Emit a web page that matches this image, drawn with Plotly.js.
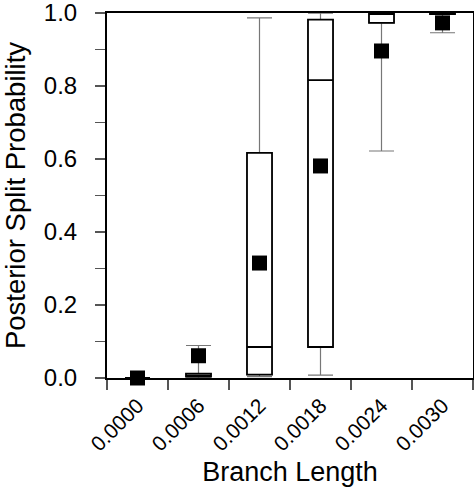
<!DOCTYPE html>
<html>
<head>
<meta charset="utf-8">
<script src="https://cdn.plot.ly/plotly-3.0.1.min.js"></script>
<style>html,body{margin:0;padding:0;background:#fff;}#chart{width:474px;height:487px;}</style>
</head>
<body>
<div id="chart"></div>
<script>
// Branch length categories
const categories = ['0.0000', '0.0006', '0.0012', '0.0018', '0.0024', '0.0030'];
// Box statistics of posterior split probability
const lowerWhisker = [0.000, 0.000, 0.004, 0.008, 0.622, 0.946];
const q1Values     = [0.000, 0.004, 0.009, 0.085, 0.973, 0.997];
const medianValues = [0.000, 0.004, 0.085, 0.816, 1.000, 1.000];
const q3Values     = [0.000, 0.012, 0.617, 0.982, 1.000, 1.000];
const upperWhisker = [0.000, 0.089, 0.987, 1.000, 1.000, 1.000];
// Means (black squares)
const meanValues   = [0.000, 0.061, 0.315, 0.581, 0.896, 0.973];
// Y tick labels
const yTickVals = [0, 0.1, 0.2, 0.3, 0.4, 0.5, 0.6, 0.7, 0.8, 0.9, 1.0];
const yTickText = ['0.0', '', '0.2', '', '0.4', '', '0.6', '', '0.8', '', '1.0'];

const FONT = 'Liberation Sans, Arial, Helvetica, sans-serif';

const whiskerTrace = {
  type: 'box',
  x: categories,
  q1: q1Values,
  median: medianValues,
  q3: q3Values,
  lowerfence: lowerWhisker,
  upperfence: upperWhisker,
  width: 0.41,
  whiskerwidth: 1,
  boxpoints: false,
  fillcolor: '#ffffff',
  line: {color: '#777777', width: 1.2},
  hoverinfo: 'skip',
  showlegend: false
};

const boxTrace = {
  type: 'box',
  x: categories,
  q1: q1Values,
  median: medianValues,
  q3: q3Values,
  lowerfence: q1Values,
  upperfence: q3Values,
  width: 0.41,
  whiskerwidth: 1,
  boxpoints: false,
  fillcolor: '#ffffff',
  line: {color: '#000000', width: 1.8},
  hoverinfo: 'skip',
  showlegend: false
};

const meanTrace = {
  type: 'scatter',
  mode: 'markers',
  x: categories,
  y: meanValues,
  marker: {symbol: 'square', size: 15, color: '#000000', line: {width: 0}},
  cliponaxis: false,
  hoverinfo: 'skip',
  showlegend: false
};

const layout = {
  width: 474,
  height: 487,
  margin: {l: 107, r: 1, t: 13, b: 109},
  paper_bgcolor: '#ffffff',
  plot_bgcolor: '#ffffff',
  font: {family: FONT, color: '#000000'},
  showlegend: false,
  xaxis: {
    type: 'category',
    categoryorder: 'array',
    categoryarray: categories,
    range: [-0.5, 5.5],
    tickson: 'boundaries',
    ticks: 'outside',
    ticklen: 10,
    tickwidth: 1.3,
    tickcolor: '#555555',
    tickangle: -45,
    ticklabelstandoff: 5,
    ticklabeloverflow: 'allow',
    tickfont: {family: FONT, size: 21, color: '#000000'},
    showline: true,
    linecolor: '#000000',
    linewidth: 2,
    mirror: true,
    showgrid: false,
    zeroline: false,
    title: {text: 'Branch Length', font: {family: FONT, size: 27, color: '#000000'}, standoff: 16}
  },
  yaxis: {
    range: [0, 1.0001],
    tickmode: 'array',
    tickvals: yTickVals,
    ticktext: yTickText,
    ticks: 'outside',
    ticklen: 10,
    tickwidth: 1.3,
    tickcolor: '#555555',
    ticklabelstandoff: 13,
    ticklabeloverflow: 'allow',
    tickfont: {family: FONT, size: 24, color: '#000000'},
    showline: true,
    linecolor: '#000000',
    linewidth: 2,
    mirror: true,
    showgrid: false,
    zeroline: false,
    title: {text: 'Posterior Split Probability', font: {family: FONT, size: 27.5, color: '#000000'}, standoff: 24}
  }
};

Plotly.newPlot('chart', [whiskerTrace, boxTrace, meanTrace], layout, {displayModeBar: false, staticPlot: true});
</script>
</body>
</html>
